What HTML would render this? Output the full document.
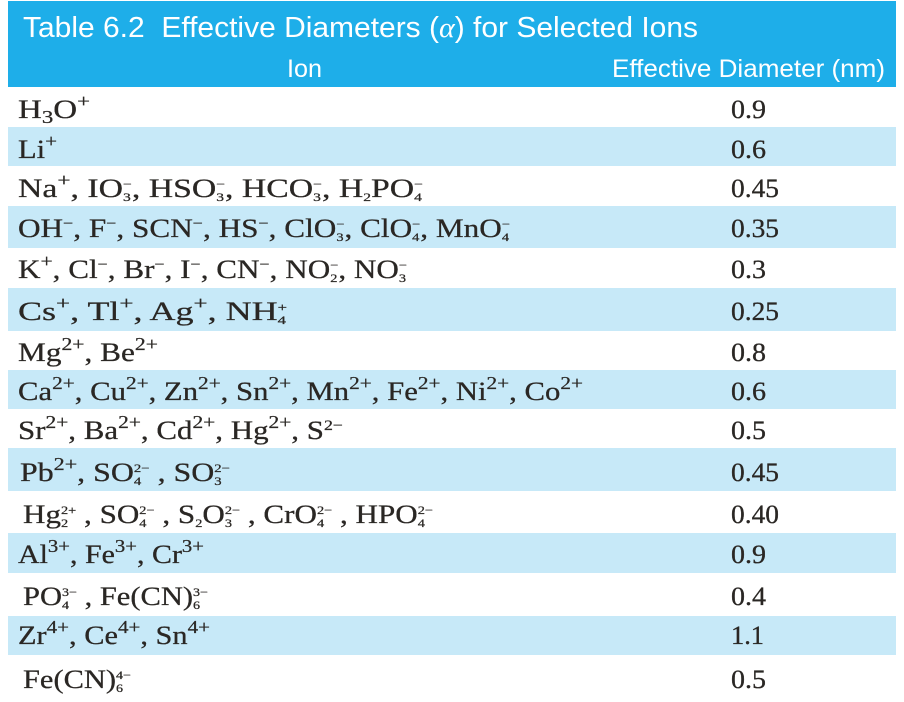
<!DOCTYPE html>
<html><head><meta charset="utf-8"><style>
html,body{margin:0;padding:0;background:#fff;}
svg{display:block;}
.t{font-family:"Liberation Serif",serif;font-size:26px;fill:#2a2724;stroke:#2a2724;stroke-width:0.25px;white-space:pre;}
.h{font-family:"Liberation Sans",sans-serif;fill:#fff;white-space:pre;}
.b{font-size:18px;}
.m{font-size:15px;}
.s{font-size:12px;}
.num{font-family:"Liberation Serif","DejaVu Serif",serif !important;font-size:26px;fill:#2a2724;stroke:#2a2724;stroke-width:0.3px;}
</style></head><body>
<svg width="904" height="702" viewBox="0 0 904 702" xmlns="http://www.w3.org/2000/svg">
<rect width="904" height="702" fill="#fff"/>
<rect x="8" y="1" width="888" height="86" fill="#1eaee9"/>
<g fill="#c7e9f8">
<rect x="8" y="127" width="888" height="39"/>
<rect x="8" y="206" width="888" height="42"/>
<rect x="8" y="288" width="888" height="43"/>
<rect x="8" y="370" width="888" height="39"/>
<rect x="8" y="448" width="888" height="43"/>
<rect x="8" y="533" width="888" height="40"/>
<rect x="8" y="616" width="888" height="39"/>
</g>
<text class="h" x="23" y="37" font-size="29" textLength="675" lengthAdjust="spacingAndGlyphs">Table 6.2  Effective Diameters (<tspan font-family="Liberation Serif" font-style="italic">α</tspan>) for Selected Ions</text>
<text class="h" x="287" y="77" font-size="25" textLength="35" lengthAdjust="spacingAndGlyphs">Ion</text>
<text class="h" x="612" y="77" font-size="25" textLength="273" lengthAdjust="spacingAndGlyphs">Effective Diameter (nm)</text>

<text class="t" x="18" y="118" textLength="72" lengthAdjust="spacingAndGlyphs">H<tspan class="b" y="123">3</tspan><tspan y="118">O</tspan><tspan class="b" y="107">+</tspan></text>
<text class="t" x="18" y="158" textLength="39" lengthAdjust="spacingAndGlyphs">Li<tspan class="b" y="147">+</tspan></text>
<text class="t" x="18" y="197" textLength="405" lengthAdjust="spacingAndGlyphs">Na<tspan class="b" y="186">+</tspan><tspan y="197">, IO</tspan><tspan class="s" y="201">3</tspan><tspan class="s" dx="-6" y="188">−</tspan><tspan y="197">, HSO</tspan><tspan class="s" y="201">3</tspan><tspan class="s" dx="-6" y="188">−</tspan><tspan y="197">, HCO</tspan><tspan class="s" y="201">3</tspan><tspan class="s" dx="-6" y="188">−</tspan><tspan y="197">, H</tspan><tspan class="s" y="201">2</tspan><tspan y="197">PO</tspan><tspan class="s" y="201">4</tspan><tspan class="s" dx="-6" y="188">−</tspan></text>
<text class="t" x="18" y="237" textLength="492" lengthAdjust="spacingAndGlyphs">OH<tspan class="m" y="228">−</tspan><tspan y="237">, F</tspan><tspan class="m" y="228">−</tspan><tspan y="237">, SCN</tspan><tspan class="m" y="228">−</tspan><tspan y="237">, HS</tspan><tspan class="m" y="228">−</tspan><tspan y="237">, ClO</tspan><tspan class="s" y="241">3</tspan><tspan class="s" dx="-6" y="228">−</tspan><tspan y="237">, ClO</tspan><tspan class="s" y="241">4</tspan><tspan class="s" dx="-6" y="228">−</tspan><tspan y="237">, MnO</tspan><tspan class="s" y="241">4</tspan><tspan class="s" dx="-6" y="228">−</tspan></text>
<text class="t" x="18" y="278" textLength="389" lengthAdjust="spacingAndGlyphs">K<tspan class="b" y="267">+</tspan><tspan y="278">, Cl</tspan><tspan class="m" y="269">−</tspan><tspan y="278">, Br</tspan><tspan class="m" y="269">−</tspan><tspan y="278">, I</tspan><tspan class="m" y="269">−</tspan><tspan y="278">, CN</tspan><tspan class="m" y="269">−</tspan><tspan y="278">, NO</tspan><tspan class="s" y="282">2</tspan><tspan class="s" dx="-6" y="269">−</tspan><tspan y="278">, NO</tspan><tspan class="s" y="282">3</tspan><tspan class="s" dx="-6" y="269">−</tspan></text>
<text class="t" x="18" y="320" textLength="269" lengthAdjust="spacingAndGlyphs">Cs<tspan class="b" y="309">+</tspan><tspan y="320">, Tl</tspan><tspan class="b" y="309">+</tspan><tspan y="320">, Ag</tspan><tspan class="b" y="309">+</tspan><tspan y="320">, NH</tspan><tspan class="s" y="324">4</tspan><tspan class="s" dx="-6" y="311">+</tspan></text>
<text class="t" x="18" y="361" textLength="140" lengthAdjust="spacingAndGlyphs">Mg<tspan class="b" y="350">2+</tspan><tspan y="361">, Be</tspan><tspan class="b" y="350">2+</tspan></text>
<text class="t" x="18" y="400" textLength="565" lengthAdjust="spacingAndGlyphs">Ca<tspan class="b" y="389">2+</tspan><tspan y="400">, Cu</tspan><tspan class="b" y="389">2+</tspan><tspan y="400">, Zn</tspan><tspan class="b" y="389">2+</tspan><tspan y="400">, Sn</tspan><tspan class="b" y="389">2+</tspan><tspan y="400">, Mn</tspan><tspan class="b" y="389">2+</tspan><tspan y="400">, Fe</tspan><tspan class="b" y="389">2+</tspan><tspan y="400">, Ni</tspan><tspan class="b" y="389">2+</tspan><tspan y="400">, Co</tspan><tspan class="b" y="389">2+</tspan></text>
<text class="t" x="18" y="439" textLength="325" lengthAdjust="spacingAndGlyphs">Sr<tspan class="b" y="428">2+</tspan><tspan y="439">, Ba</tspan><tspan class="b" y="428">2+</tspan><tspan y="439">, Cd</tspan><tspan class="b" y="428">2+</tspan><tspan y="439">, Hg</tspan><tspan class="b" y="428">2+</tspan><tspan y="439">, S</tspan><tspan class="m" y="430">2−</tspan></text>
<text class="t" x="20" y="481" textLength="210" lengthAdjust="spacingAndGlyphs">Pb<tspan class="b" y="470">2+</tspan><tspan y="481">, SO</tspan><tspan class="s" y="485">4</tspan><tspan class="s" dx="-6" y="472">2−</tspan><tspan y="481"> , SO</tspan><tspan class="s" y="485">3</tspan><tspan class="s" dx="-6" y="472">2−</tspan></text>
<text class="t" x="23" y="523" textLength="410" lengthAdjust="spacingAndGlyphs">Hg<tspan class="s" y="527">2</tspan><tspan class="s" dx="-6" y="514">2+</tspan><tspan y="523"> , SO</tspan><tspan class="s" y="527">4</tspan><tspan class="s" dx="-6" y="514">2−</tspan><tspan y="523"> , S</tspan><tspan class="s" y="527">2</tspan><tspan y="523">O</tspan><tspan class="s" y="527">3</tspan><tspan class="s" dx="-6" y="514">2−</tspan><tspan y="523"> , CrO</tspan><tspan class="s" y="527">4</tspan><tspan class="s" dx="-6" y="514">2−</tspan><tspan y="523"> , HPO</tspan><tspan class="s" y="527">4</tspan><tspan class="s" dx="-6" y="514">2−</tspan></text>
<text class="t" x="18" y="563" textLength="186" lengthAdjust="spacingAndGlyphs">Al<tspan class="b" y="552">3+</tspan><tspan y="563">, Fe</tspan><tspan class="b" y="552">3+</tspan><tspan y="563">, Cr</tspan><tspan class="b" y="552">3+</tspan></text>
<text class="t" x="23" y="605" textLength="185" lengthAdjust="spacingAndGlyphs">PO<tspan class="s" y="609">4</tspan><tspan class="s" dx="-6" y="596">3−</tspan><tspan y="605"> , Fe(CN)</tspan><tspan class="s" y="609">6</tspan><tspan class="s" dx="-6" y="596">3−</tspan></text>
<text class="t" x="18" y="644" textLength="192" lengthAdjust="spacingAndGlyphs">Zr<tspan class="b" y="633">4+</tspan><tspan y="644">, Ce</tspan><tspan class="b" y="633">4+</tspan><tspan y="644">, Sn</tspan><tspan class="b" y="633">4+</tspan></text>
<text class="t" x="23" y="688" textLength="108" lengthAdjust="spacingAndGlyphs">Fe(CN)<tspan class="s" y="692">6</tspan><tspan class="s" dx="-6" y="679">4−</tspan></text>

<text class="num" style="font-family:'Liberation Serif',serif" x="731" y="118" textLength="35" lengthAdjust="spacingAndGlyphs">0.9</text>
<text class="num" style="font-family:'Liberation Serif',serif" x="731" y="158" textLength="35" lengthAdjust="spacingAndGlyphs">0.6</text>
<text class="num" style="font-family:'Liberation Serif',serif" x="731" y="197" textLength="48" lengthAdjust="spacingAndGlyphs">0.45</text>
<text class="num" style="font-family:'Liberation Serif',serif" x="731" y="237" textLength="48" lengthAdjust="spacingAndGlyphs">0.35</text>
<text class="num" style="font-family:'Liberation Serif',serif" x="731" y="278" textLength="35" lengthAdjust="spacingAndGlyphs">0.3</text>
<text class="num" style="font-family:'Liberation Serif',serif" x="731" y="320" textLength="48" lengthAdjust="spacingAndGlyphs">0.25</text>
<text class="num" style="font-family:'Liberation Serif',serif" x="731" y="361" textLength="35" lengthAdjust="spacingAndGlyphs">0.8</text>
<text class="num" style="font-family:'Liberation Serif',serif" x="731" y="400" textLength="35" lengthAdjust="spacingAndGlyphs">0.6</text>
<text class="num" style="font-family:'Liberation Serif',serif" x="731" y="439" textLength="35" lengthAdjust="spacingAndGlyphs">0.5</text>
<text class="num" style="font-family:'Liberation Serif',serif" x="731" y="481" textLength="48" lengthAdjust="spacingAndGlyphs">0.45</text>
<text class="num" style="font-family:'Liberation Serif',serif" x="731" y="523" textLength="48" lengthAdjust="spacingAndGlyphs">0.40</text>
<text class="num" style="font-family:'Liberation Serif',serif" x="731" y="563" textLength="35" lengthAdjust="spacingAndGlyphs">0.9</text>
<text class="num" style="font-family:'Liberation Serif',serif" x="731" y="605" textLength="35" lengthAdjust="spacingAndGlyphs">0.4</text>
<text class="num" style="font-family:'Liberation Serif',serif" x="731" y="644" textLength="33" lengthAdjust="spacingAndGlyphs">1.1</text>
<text class="num" style="font-family:'Liberation Serif',serif" x="731" y="688" textLength="35" lengthAdjust="spacingAndGlyphs">0.5</text>
</svg>
</body></html>
